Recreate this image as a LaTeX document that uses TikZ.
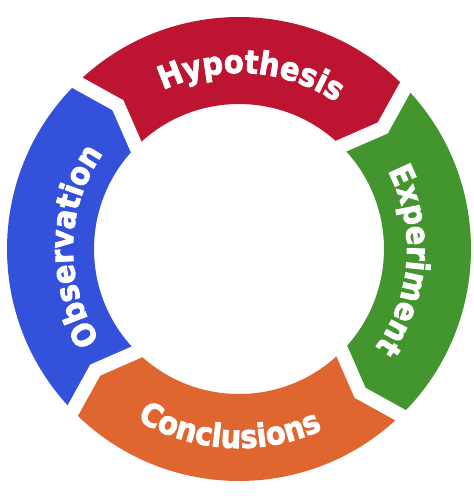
\documentclass[tikz,border=0pt]{standalone}
\usepackage{fontspec}
\newfontfamily\lbl{DejaVu Sans Bold}[FakeBold=2.5,FakeStretch=0.9]
\newcommand\lblfont{\lbl\fontsize{32}{32}\selectfont}
\usetikzlibrary{decorations.text,calc}
\definecolor{cred}{HTML}{BD1531}
\definecolor{cgreen}{HTML}{43952E}
\definecolor{corange}{HTML}{E0662F}
\definecolor{cblue}{HTML}{3451DB}
\tikzset{
  ringlabel/.style={decorate, decoration={text along path, text align=center, text color=white, text={#1}}},
  gapline/.style={white, line width=14pt, line join=miter}
}
\begin{document}
\begin{tikzpicture}[x=1pt,y=1pt]
\useasboundingbox (0,0) rectangle (474,499);
\begin{scope}[shift={(239,250)}]
\foreach \a/\c in {134.2/cred, 44.2/cgreen, -45.8/corange, 224.2/cblue}{
  \fill[\c] (\a:232) arc[start angle=\a, end angle=\a-90, radius=232]
    -- (\a-94.1:188) -- (\a-89:145)
    arc[start angle=\a-89, end angle=\a+1, radius=145]
    -- (\a-4.1:188) -- cycle;
}
\foreach \a in {134.2,44.2,-45.8,-135.8}{
  \draw[gapline] ($(\a:232)!-0.4!(\a-4.1:188)$) -- (\a:232) -- (\a-4.1:188) -- (\a+1:145) -- ($(\a+1:145)!-0.4!(\a-4.1:188)$);
}
\path[ringlabel={|\lblfont|Hypothesis}] (146:176) arc[start angle=146, end angle=26, radius=176];
\path[ringlabel={|\lblfont|Experiment}] (56:168) arc[start angle=56, end angle=-64, radius=168];
\path[ringlabel={|\lblfont|Observation}] (239:166) arc[start angle=239, end angle=119, radius=166];
\path[ringlabel={|\lblfont|Conclusions}] (-153:199) arc[start angle=-153, end angle=-33, radius=199];
\end{scope}
\end{tikzpicture}
\end{document}
